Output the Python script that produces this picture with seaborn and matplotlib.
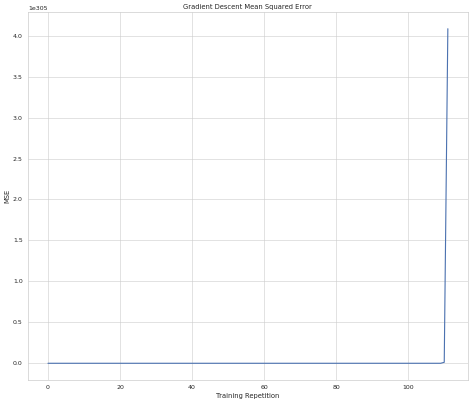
import numpy as np
import pandas as pd
import matplotlib
matplotlib.use("Agg")
import matplotlib.pyplot as plt
import seaborn as sns

# MSE per training repetition (values before the blow-up read as ~0 at this scale)
repetitions = list(range(112))
mse = [
    0.0, 0.0, 0.0, 0.0, 0.0, 0.0, 0.0, 0.0, 0.0, 0.0,
    0.0, 0.0, 0.0, 0.0, 0.0, 0.0, 0.0, 0.0, 0.0, 0.0,
    0.0, 0.0, 0.0, 0.0, 0.0, 0.0, 0.0, 0.0, 0.0, 0.0,
    0.0, 0.0, 0.0, 0.0, 0.0, 0.0, 0.0, 0.0, 0.0, 0.0,
    0.0, 0.0, 0.0, 0.0, 0.0, 0.0, 0.0, 0.0, 0.0, 0.0,
    0.0, 0.0, 0.0, 0.0, 0.0, 0.0, 0.0, 0.0, 0.0, 0.0,
    0.0, 0.0, 0.0, 0.0, 0.0, 0.0, 0.0, 0.0, 0.0, 0.0,
    0.0, 0.0, 0.0, 0.0, 0.0, 0.0, 0.0, 0.0, 0.0, 0.0,
    0.0, 0.0, 0.0, 0.0, 0.0, 0.0, 0.0, 0.0, 0.0, 0.0,
    0.0, 0.0, 0.0, 0.0, 0.0, 0.0, 0.0, 0.0, 0.0, 0.0,
    0.0, 0.0, 0.0, 0.0, 0.0, 0.0, 0.0, 0.0, 0.0, 0.0,
    1.2e303, 4.085e305,
]

sns.set_theme(style="whitegrid")

df = pd.DataFrame({"Training Repetition": repetitions, "MSE": mse})

dpi = 40.5
fig, ax = plt.subplots(figsize=(474 / dpi, 404 / dpi), dpi=dpi)
sns.lineplot(data=df, x="Training Repetition", y="MSE", ax=ax, linewidth=2.0)
ax.set_title("Gradient Descent Mean Squared Error")

plt.subplots_adjust(left=0.059, right=0.987, bottom=0.0594, top=0.9703)
plt.savefig("out.png", dpi=dpi)
